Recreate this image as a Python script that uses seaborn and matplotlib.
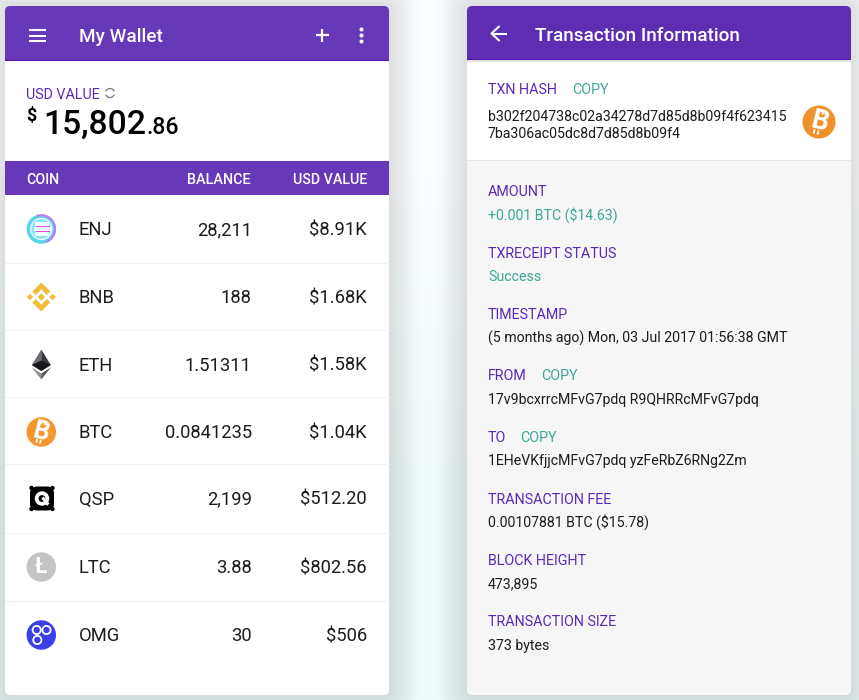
"""Wallet screens mock-up, drawn in pixel coordinates on one full-figure axes."""
import math

import matplotlib
matplotlib.use("Agg")
import matplotlib.pyplot as plt
import pandas as pd
import seaborn as sns
from matplotlib.colors import LinearSegmentedColormap
from matplotlib.patches import Arc, Circle, FancyBboxPatch, Polygon, Rectangle

coins = ["ENJ", "BNB", "ETH", "BTC", "QSP", "LTC", "OMG"]
balances = ["28,211", "188", "1.51311", "0.0841235", "2,199", "3.88", "30"]
usd_values = ["$8.91K", "$1.68K", "$1.58K", "$1.04K", "$512.20", "$802.56", "$506"]
disc_colors = {"ENJ": "#5AD4EF", "BTC": "#F2982F", "LTC": "#C4C4C4", "OMG": "#3A3FE6"}

field_labels = ["AMOUNT", "TXRECEIPT STATUS", "TIMESTAMP", "FROM", "TO",
                "TRANSACTION FEE", "BLOCK HEIGHT", "TRANSACTION SIZE"]
field_values = ["+0.001 BTC ($14.63)", "Success",
                "(5 months ago) Mon, 03 Jul 2017 01:56:38 GMT",
                "17v9bcxrrcMFvG7pdq R9QHRRcMFvG7pdq",
                "1EHeVKfjjcMFvG7pdq yzFeRbZ6RNg2Zm",
                "0.00107881 BTC ($15.78)", "473,895", "373 bytes"]
hash_lines = ["b302f204738c02a34278d7d85d8b09f4f623415", "7ba306ac05dc8d7d85d8b09f4"]

# layout, screen pixels
ROW_Y = [229, 297, 364.5, 432, 498.5, 567, 635]
SEP_Y = [262.7, 330.3, 397.3, 464.3, 533.3, 600.7]

PURPLE = "#6738B8"
PURPLE_DARK = "#5E2DB1"
HEADER_LINE = "#5312AE"
LABEL = "#5A28B6"
TEAL = "#3BA796"
INK = "#1C1C1C"

sns.set_theme(style="white")
plt.rcParams["font.family"] = ["Roboto", "DejaVu Sans"]

fig = plt.figure(figsize=(8.59, 7), dpi=100)
ax = fig.add_axes([0, 0, 1, 1])

# page background fades from near white to pale mint
page = LinearSegmentedColormap.from_list("page", ["#FBFDFE", "#F0FAFA"])
ax.imshow([[0], [1]], extent=[0, 859, 700, 0], cmap=page, aspect="auto",
          interpolation="bilinear", zorder=-1)


def label(x, y, s, px=16, color=INK, ha="left", weight="normal", **kw):
    # font size given in screen pixels
    ax.text(x, y, s, fontsize=px * 0.72, color=color, ha=ha, va="baseline",
            fontweight=weight, zorder=5, **kw)


def card(x0, y0, x1, y1, face):
    # soft shadow first, a stack of faint rounded boxes
    for grow in range(30, 0, -1):
        ax.add_patch(FancyBboxPatch((x0 - grow, y0 - grow), x1 - x0 + 2 * grow,
                                    y1 - y0 + 2 * grow,
                                    boxstyle=f"round,pad=0,rounding_size={5 + grow}",
                                    fc="#7F9AA0", ec="none", alpha=0.005, zorder=0))
    patch = FancyBboxPatch((x0, y0), x1 - x0, y1 - y0,
                           boxstyle="round,pad=0,rounding_size=5",
                           fc=face, ec="none", zorder=1)
    ax.add_patch(patch)
    return patch


def band(x0, y0, x1, y1, color, clip=None, z=2):
    r = Rectangle((x0, y0), x1 - x0, y1 - y0, fc=color, ec="none", zorder=z)
    ax.add_patch(r)
    if clip is not None:
        r.set_clip_path(clip)


def draw_enj(cx, cy):
    ax.add_patch(Arc((cx, cy), 27.5, 27.5, theta1=-110, theta2=70, ec="#C07BEF", lw=1.5, zorder=4))
    ax.add_patch(Circle((cx, cy), 10.5, fc="#86E4F5", ec="#E8FBFF", lw=1.0, zorder=4))
    for dy, w in [(-5, 7), (0, 8.5), (5, 7)]:
        band(cx - w + 1, cy + dy - 1.6, cx + w + 1, cy + dy + 1.6, "#EFFDFF", z=4)
    for dy in (-2.4, 2.4):
        band(cx - 5, cy + dy - 0.5, cx + 9, cy + dy + 0.5, "#E84CD6", z=4)


def draw_bnb(cx, cy, h=14.5, color="#F0BC3A"):
    def poly(pts):
        ax.add_patch(Polygon([(cx + px * h, cy + py * h) for px, py in pts],
                             fc=color, ec="none", zorder=4))
    for ox, half in [(-0.78, 0.22), (0, 0.25), (0.78, 0.22)]:
        poly([(ox, -half), (ox + half, 0), (ox, half), (ox - half, 0)])
    for s in (-1, 1):
        poly([(0, s), (0.62, s * 0.38), (0.38, s * 0.14), (0, s * 0.52),
              (-0.38, s * 0.14), (-0.62, s * 0.38)])


def draw_eth(cx, cy):
    facets = [([(0, -15), (-9.5, 0.5), (0, 6.5)], "#6E6E74"),
              ([(0, -15), (9.5, 0.5), (0, 6.5)], "#38383D"),
              ([(-9.5, 3), (0, 15), (0, 9)], "#8F8F8F"),
              ([(9.5, 3), (0, 15), (0, 9)], "#5A5A5F"),
              ([(0, -4), (-9.5, 0.5), (0, 6.5), (9.5, 0.5)], "#17171A")]
    for pts, c in facets:
        ax.add_patch(Polygon([(cx + x, cy + y) for x, y in pts], fc=c, ec="none", zorder=4))


def draw_btc(cx, cy, px):
    # letter B plus the two pairs of ticks, tilted as in the logo
    ax.text(cx, cy, "B", fontsize=px * 0.72, color="white", ha="center", va="center",
            fontweight="bold", rotation=-14, rotation_mode="anchor", zorder=5)
    tilt = math.radians(14)
    for ox in (-0.09, 0.06):
        for y0, y1 in [(-0.46, -0.3), (0.3, 0.46)]:
            xs, ys = [], []
            for oy in (y0, y1):
                xs.append(cx + px * (ox * math.cos(tilt) - oy * math.sin(tilt)))
                ys.append(cy + px * (ox * math.sin(tilt) + oy * math.cos(tilt)))
            ax.plot(xs, ys, color="white", lw=px * 0.05, zorder=5, solid_capstyle="butt")


def draw_qsp(cx, cy):
    ax.add_patch(FancyBboxPatch((cx - 12, cy - 12), 24, 24,
                                boxstyle="round,pad=0,rounding_size=7",
                                fc="black", ec="none", zorder=4))
    for sx in (-1, 1):
        for sy in (-1, 1):
            ax.add_patch(Circle((cx + sx * 10.5, cy + sy * 10.5), 2.2, fc="black", ec="none", zorder=4))
    ax.add_patch(Circle((cx, cy), 7.2, fc="white", ec="none", zorder=4))
    ax.add_patch(Circle((cx, cy), 3.4, fc="black", ec="none", zorder=4))
    ax.add_patch(Polygon([(cx - 0.5, cy), (cx + 1.5, cy - 2), (cx + 7.5, cy + 5), (cx + 5, cy + 7.5)],
                         fc="white", ec="none", zorder=4))


def draw_omg(cx, cy):
    for dx, dy in [(-4.6, -5), (5.2, -5), (-4, 5)]:
        ax.add_patch(Circle((cx + dx, cy + dy), 4.1, fc="none", ec="white", lw=1.3, zorder=4))


# left card
left = card(5, 6, 389, 695, "white")
band(5, 6, 389, 60.4, PURPLE, left)
band(5, 60.2, 389, 61.4, HEADER_LINE, left, z=3)
for y in (30, 35.5, 41):
    ax.plot([29, 46], [y, y], color="white", lw=1.5, zorder=5, solid_capstyle="butt")
label(79, 42.5, "My Wallet", 19, "white", weight="medium")
ax.plot([322, 322], [28.5, 41.5], color="white", lw=1.6, zorder=5, solid_capstyle="butt")
ax.plot([315.5, 328.5], [35, 35], color="white", lw=1.6, zorder=5, solid_capstyle="butt")
for y in (29.5, 35.5, 41.5):
    ax.add_patch(Circle((361.5, y), 2, fc="white", ec="none", zorder=5))

label(26.5, 99, "USD VALUE", 14.2, LABEL)
ax.add_patch(Arc((110, 93), 9, 9, theta1=20, theta2=160, ec="#777777", lw=0.9, zorder=5))
ax.add_patch(Arc((110, 93), 9, 9, theta1=200, theta2=340, ec="#777777", lw=0.9, zorder=5))
label(26.5, 121, "$", 18, "black", weight="bold")
label(43, 134, "15,802", 33.6, "black", weight="medium")
label(146, 134, ".86", 23, "black", weight="medium")

band(5, 161, 389, 195, PURPLE, left)
label(26.5, 184, "COIN", 14.3, "white", weight="medium")
label(250.5, 184, "BALANCE", 14.4, "white", ha="right", weight="medium")
label(367, 184, "USD VALUE", 14.3, "white", ha="right", weight="medium")

row_table = pd.DataFrame({"coin": coins, "balance": balances, "usd": usd_values, "y": ROW_Y})
for row in row_table.itertuples():
    label(79, row.y + 6.3, row.coin, 18.4)
    label(251.8, row.y + 6.3, row.balance, 18.4, ha="right")
    label(367, row.y + 6.3, row.usd, 18.4, ha="right")
for y in SEP_Y:
    ax.plot([5, 389], [y, y], color="#F2F3F3", lw=0.9, zorder=2)

# coin discs go through seaborn, glyphs on top
discs = row_table[row_table.coin.isin(disc_colors)].assign(x=41.3)
sns.scatterplot(data=discs, x="x", y="y", hue="coin", palette=disc_colors, s=450,
                linewidth=0, legend=False, ax=ax, zorder=3)

y_of = dict(zip(row_table.coin, row_table.y))
draw_enj(41.3, y_of["ENJ"])
draw_bnb(41.3, y_of["BNB"])
draw_eth(41.3, y_of["ETH"])
draw_btc(41.3, y_of["BTC"], 25)
draw_qsp(42, y_of["QSP"])
ax.text(41.3, y_of["LTC"] + 0.3, "Ł", fontsize=16, color="white", ha="center", va="center",
        fontweight="bold", zorder=5)
draw_omg(41.3, y_of["OMG"])

# right card
right = card(467, 6, 851, 695, "#F6F6F6")
band(467, 6, 851, 59, PURPLE_DARK, right)
band(467, 58.6, 851, 59.8, HEADER_LINE, right, z=3)
band(467, 60, 851, 160, "white", right)
band(467, 59.8, 851, 62, "#E4E4E4", right, z=3)
band(467, 159.6, 851, 161, "#E6E6E6", right, z=3)
ax.plot([499, 491.5, 499], [26.5, 33.5, 40.5], color="white", lw=1.5, zorder=5)
ax.plot([492, 507], [33.5, 33.5], color="white", lw=1.5, zorder=5, solid_capstyle="butt")
label(535, 40.7, "Transaction Information", 18.9, "white", weight="medium")

label(488, 94.5, "TXN HASH", 14.2, LABEL)
label(572.5, 94.5, "COPY", 14.2, TEAL)
for i, line in enumerate(hash_lines):
    label(488, 120.7 + 17 * i, line, 14.1)
ax.add_patch(Circle((819, 122), 16.5, fc="#F0922B", ec="none", zorder=4))
draw_btc(819, 122, 27)

copy_x = {"FROM": 541.5, "TO": 520.5}
for i, (name, val) in enumerate(zip(field_labels, field_values)):
    y = 196 + 61.5 * i
    label(488, y, name, 14.2, LABEL)
    if name in copy_x:
        label(copy_x[name], y, "COPY", 14.2, TEAL)
    label(488, y + 23.5, val, 14.1, TEAL if i < 2 else INK)

ax.set_xlim(0, 859)
ax.set_ylim(700, 0)
ax.axis("off")

fig.savefig("out.png", dpi=100, facecolor="white")
